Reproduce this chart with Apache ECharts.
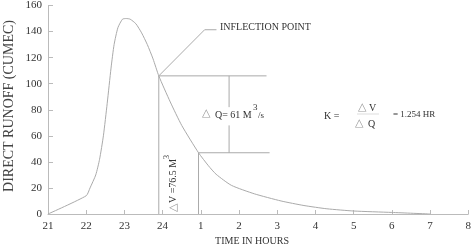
<!DOCTYPE html>
<html><head><meta charset="utf-8">
<script src="https://cdn.jsdelivr.net/npm/echarts@6/dist/echarts.min.js"></script>
<style>html,body{margin:0;padding:0;background:#fff}#c{width:474px;height:248px}</style>
</head><body><div id="c"></div>
<script>
// Hydrograph (time in hours from 21:00, values in cumec)
const hours = [21, 22.0, 22.1, 22.25, 22.35, 22.45, 22.55, 22.65, 22.73, 22.83, 22.95, 23.05, 23.15, 23.3, 23.45, 23.6, 23.75, 23.9, 24.2, 24.5, 24.94, 25.2, 25.4, 25.8, 26.4, 27.1, 27.7, 28.3, 29.0, 30.0, 31.0];
const runoff = [0, 14, 20, 30, 42, 60, 85, 112, 130, 143, 149.5, 150, 149.5, 146, 139, 130, 119, 106, 86, 68, 47, 37, 30.5, 22, 15.5, 10, 6.5, 4, 2.3, 1.2, 0];
const xTicks = [21, 22, 23, 24, 1, 2, 3, 4, 5, 6, 7, 8];
const yTicks = [0, 20, 40, 60, 80, 100, 120, 140, 160];
// annotation anchors
const inflection = [23.9, 106];
const secondPoint = [24.94, 47];
const annoEndUpper = 26.72;
const annoEndLower = 26.8;
const connectorX = 25.74;
const leaderKnee = [25.10, 141.4];
const leaderEnd = [25.41, 141.4];

const lineCol = '#aaaaaa';
const serif = '"Liberation Serif", "DejaVu Serif", serif';
const seg = (pts) => ({type:'line', data: pts, symbol:'none', silent:true,
  lineStyle:{color:lineCol, width:1}, animation:false});

const chart = echarts.init(document.getElementById('c'));
chart.setOption({
  animation:false,
  grid:{left:48, right:4, top:3.5, bottom:34},
  xAxis:{type:'value', min:21, max:32, interval:1,
    axisLine:{lineStyle:{color:'#bbbbbb'}},
    axisTick:{inside:true, length:4, lineStyle:{color:'#bbbbbb'}},
    splitLine:{show:false},
    axisLabel:{margin:7, color:'#333', fontFamily:serif, fontSize:11,
      formatter: v => String(xTicks[Math.round(v)-21])}},
  yAxis:{type:'value', min:0, max:160, interval:20,
    axisLine:{show:true, lineStyle:{color:'#bbbbbb'}},
    axisTick:{show:true, inside:true, length:5, lineStyle:{color:'#bbbbbb'}},
    splitLine:{show:false},
    axisLabel:{margin:6, color:'#333', fontFamily:serif, fontSize:11,
      formatter: v => String(yTicks[Math.round(v/20)])}},
  series:[
    {type:'line', data: hours.map((h,i)=>[h, runoff[i]]), symbol:'none', smooth:0.2,
      lineStyle:{color:lineCol, width:1}},
    seg([[inflection[0],0],[inflection[0],inflection[1]]]),
    seg([[inflection[0],inflection[1]],[annoEndUpper,inflection[1]]]),
    seg([[secondPoint[0],0],[secondPoint[0],secondPoint[1]]]),
    seg([[secondPoint[0],secondPoint[1]],[annoEndLower,secondPoint[1]]]),
    seg([[connectorX,inflection[1]],[connectorX,82]]),
    seg([[connectorX,68],[connectorX,secondPoint[1]]]),
    seg([inflection, leaderKnee, leaderEnd])
  ],
  graphic:[
    {type:'text', x:9, y:106, rotation:Math.PI/2,
      style:{text:'DIRECT RUNOFF (CUMEC)', font:'14px '+serif, fill:'#444', align:'center', verticalAlign:'middle'}},
    {type:'text', x:252, y:241,
      style:{text:'TIME IN HOURS', font:'10px '+serif, fill:'#333', align:'center', verticalAlign:'middle'}},
    {type:'text', x:220, y:27,
      style:{text:'INFLECTION POINT', font:'10px '+serif, fill:'#333', align:'left', verticalAlign:'middle'}},
    // ΔQ label
    {type:'text', x:202, y:113, style:{text:'△', font:'11px "DejaVu Sans"', fill:'#999', align:'left', verticalAlign:'middle'}},
    {type:'text', x:215, y:115, style:{text:'Q= 61 M', font:'10px '+serif, fill:'#333', align:'left', verticalAlign:'middle'}},
    {type:'text', x:253, y:108, style:{text:'3', font:'9px '+serif, fill:'#333', align:'left', verticalAlign:'middle'}},
    {type:'text', x:258, y:116, style:{text:'/s', font:'9px '+serif, fill:'#333', align:'left', verticalAlign:'middle'}},
    // ΔV label rotated
    {type:'group', x:173, y:181, rotation:Math.PI/2, children:[
      {type:'text', x:-31, y:0, style:{text:'△', font:'11px "DejaVu Sans"', fill:'#999', align:'left', verticalAlign:'middle'}},
      {type:'text', x:-22, y:0, style:{text:'V =76.5 M', font:'10px '+serif, fill:'#333', align:'left', verticalAlign:'middle'}},
      {type:'text', x:22, y:-6, style:{text:'3', font:'8px '+serif, fill:'#333', align:'left', verticalAlign:'middle'}}
    ]},
    // K formula
    {type:'text', x:324, y:116, style:{text:'K =', font:'10px '+serif, fill:'#333', align:'left', verticalAlign:'middle'}},
    {type:'text', x:358, y:107, style:{text:'△', font:'11px "DejaVu Sans"', fill:'#999', align:'left', verticalAlign:'middle'}},
    {type:'text', x:369, y:108, style:{text:'V', font:'10px '+serif, fill:'#333', align:'left', verticalAlign:'middle'}},
    {type:'line', shape:{x1:357, y1:114, x2:379, y2:114}, style:{stroke:'#ddd', lineWidth:1}},
    {type:'text', x:355, y:123, style:{text:'△', font:'11px "DejaVu Sans"', fill:'#999', align:'left', verticalAlign:'middle'}},
    {type:'text', x:368, y:124, style:{text:'Q', font:'10px '+serif, fill:'#333', align:'left', verticalAlign:'middle'}},
    {type:'text', x:393, y:115, style:{text:'= 1.254 HR', font:'9px '+serif, fill:'#333', align:'left', verticalAlign:'middle'}}
  ]
});
</script></body></html>
